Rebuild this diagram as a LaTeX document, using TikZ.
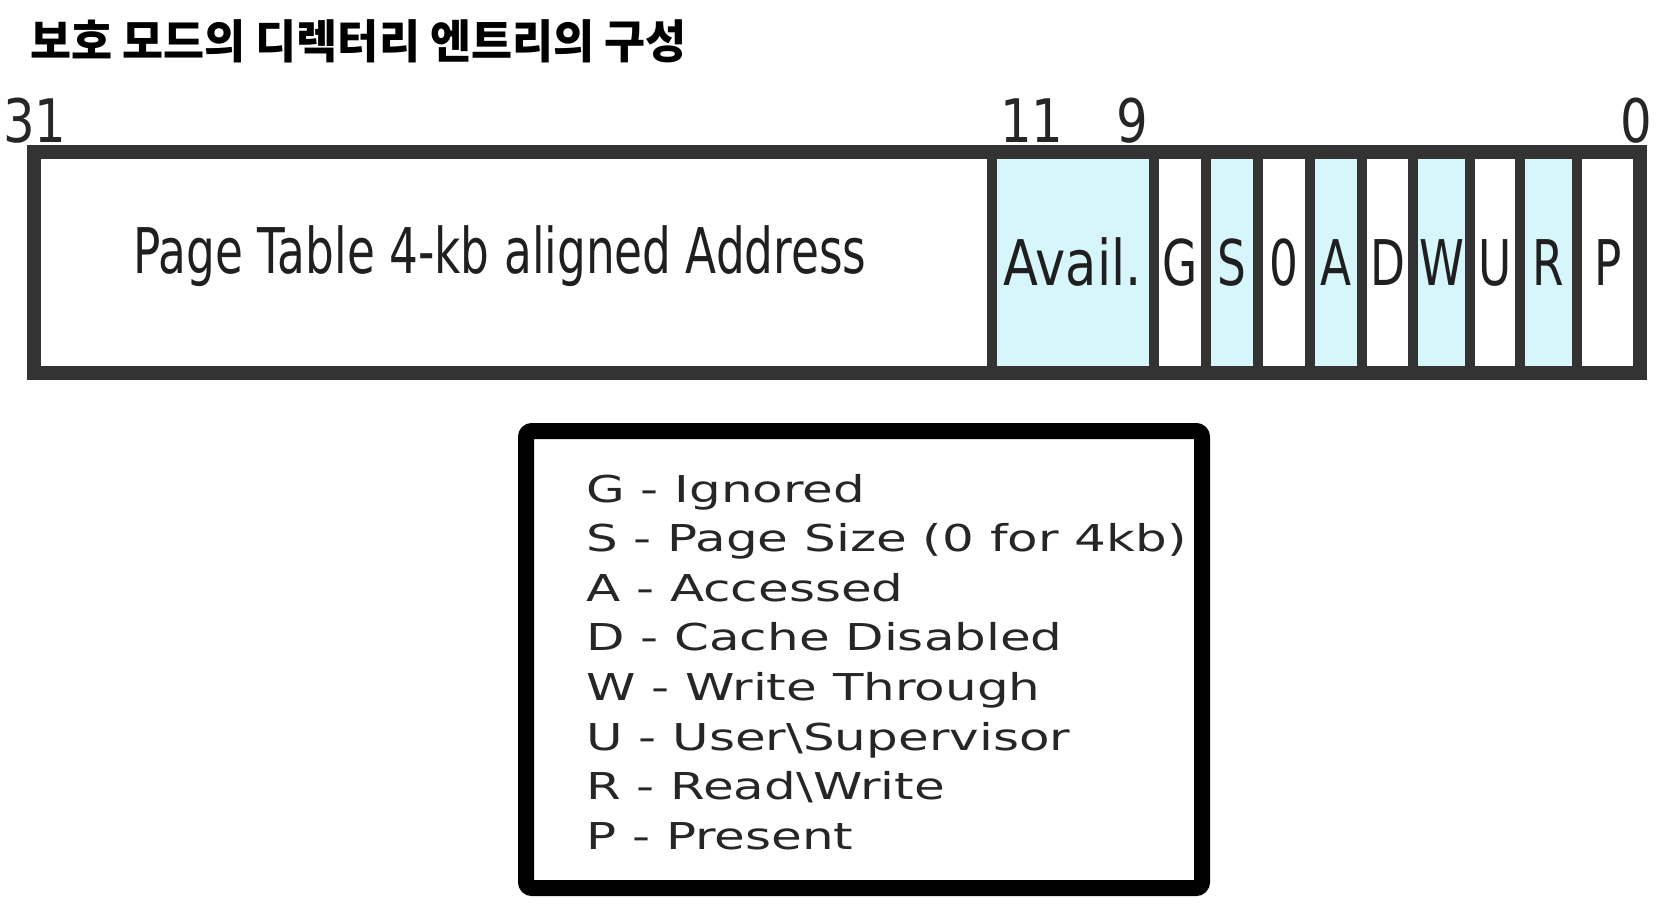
\documentclass[tikz,border=0pt]{standalone}
\usepackage{fontspec}
\setmainfont{DejaVu Sans}
\newfontfamily\krfont{Noto Sans CJK KR}
\definecolor{edge}{RGB}{51,51,51}
\definecolor{cellfill}{RGB}{214,246,252}
\newcommand{\condtxt}[1]{\scalebox{0.72}[1]{#1}}
\newcommand{\digtxt}[1]{\scalebox{0.83}[1]{#1}}
\newcommand{\widetxt}[1]{\scalebox{1.35}[1]{#1}}
\tikzset{
  cell/.style={inner sep=0pt, minimum height=221pt, text=black!88,
               font=\fontsize{63}{70}\selectfont},
  shaded/.style={cell, fill=cellfill},
  divider/.style={draw=edge, line width=10pt},
  bitnum/.style={inner sep=0pt, text=black!85, font=\fontsize{60}{66}\selectfont},
  legtxt/.style={inner sep=0pt, anchor=base west, text=black!85,
                 font=\fontsize{37}{44}\selectfont},
}
\begin{document}
\begin{tikzpicture}[x=1pt,y=-1pt]
\useasboundingbox (0,0) rectangle (1662,916);
% title
\node[anchor=base west, inner sep=0pt, font=\krfont\bfseries\fontsize{46}{50}\selectfont] (title) at (30,58)
  {\scalebox{0.97}[1]{보호 모드의 디렉터리 엔트리의 구성}};
% cells
\node[cell, minimum width=958pt] (addr) at (513,262.5) {};
\node[shaded, minimum width=161.5pt] (avail) at (1072.75,262.5) {\scalebox{0.81}[1]{Avail.}};
\node[cell, minimum width=52.5pt] (g) at (1179.75,262.5) {\condtxt{G}};
\node[shaded, minimum width=52pt] (s) at (1232,262.5) {\condtxt{S}};
\node[cell, minimum width=52pt] (z) at (1284,262.5) {\condtxt{0}};
\node[shaded, minimum width=52pt] (a) at (1336,262.5) {\condtxt{A}};
\node[cell, minimum width=51pt] (d) at (1387.5,262.5) {\condtxt{D}};
\node[shaded, minimum width=57pt] (w) at (1441.5,262.5) {\condtxt{W}};
\node[cell, minimum width=50pt] (u) at (1495,262.5) {\condtxt{U}};
\node[shaded, minimum width=57pt] (r) at (1548.5,262.5) {\condtxt{R}};
\node[cell, minimum width=63pt] (p) at (1608.5,262.5) {\condtxt{P}};
\node[inner sep=0pt, anchor=base, text=black!88, font=\fontsize{63}{70}\selectfont] (addrtxt) at (500,273)
  {\condtxt{Page Table 4-kb aligned Address}};
% dividers
\foreach \xx in {992,1153.5,1206,1258,1310,1362,1413,1470,1520,1577}
  \draw[divider] (\xx,155) -- (\xx,370);
% outer frame
\node[draw=edge, line width=14pt, inner sep=0pt, minimum width=1606pt, minimum height=221pt] (entry) at (837,262.5) {};
% bit numbers
\node[bitnum, anchor=base west] (b31) at (3,142) {\digtxt{31}};
\node[bitnum, anchor=base west] (b11) at (1000,142) {\digtxt{11}};
\node[bitnum, anchor=base west] (b9) at (1116,142) {\digtxt{9}};
\node[bitnum, anchor=base east] (b0) at (1652,142) {\digtxt{0}};
% legend
\node[draw=black, line width=16pt, rounded corners=6pt, inner sep=0pt,
      minimum width=676pt, minimum height=457pt] (legend) at (864,659.5) {};
\node[legtxt] (lg) at (586,502) {\widetxt{G - Ignored}};
\node[legtxt] (ls) at (586,551.6) {\widetxt{S - Page Size (0 for 4kb)}};
\node[legtxt] (la) at (586,601.2) {\widetxt{A - Accessed}};
\node[legtxt] (ld) at (586,650.8) {\widetxt{D - Cache Disabled}};
\node[legtxt] (lw) at (586,700.4) {\widetxt{W - Write Through}};
\node[legtxt] (lu) at (586,750) {\widetxt{U - User\textbackslash Supervisor}};
\node[legtxt] (lr) at (586,799.6) {\widetxt{R - Read\textbackslash Write}};
\node[legtxt] (lp) at (586,849.2) {\widetxt{P - Present}};
\end{tikzpicture}
\end{document}
